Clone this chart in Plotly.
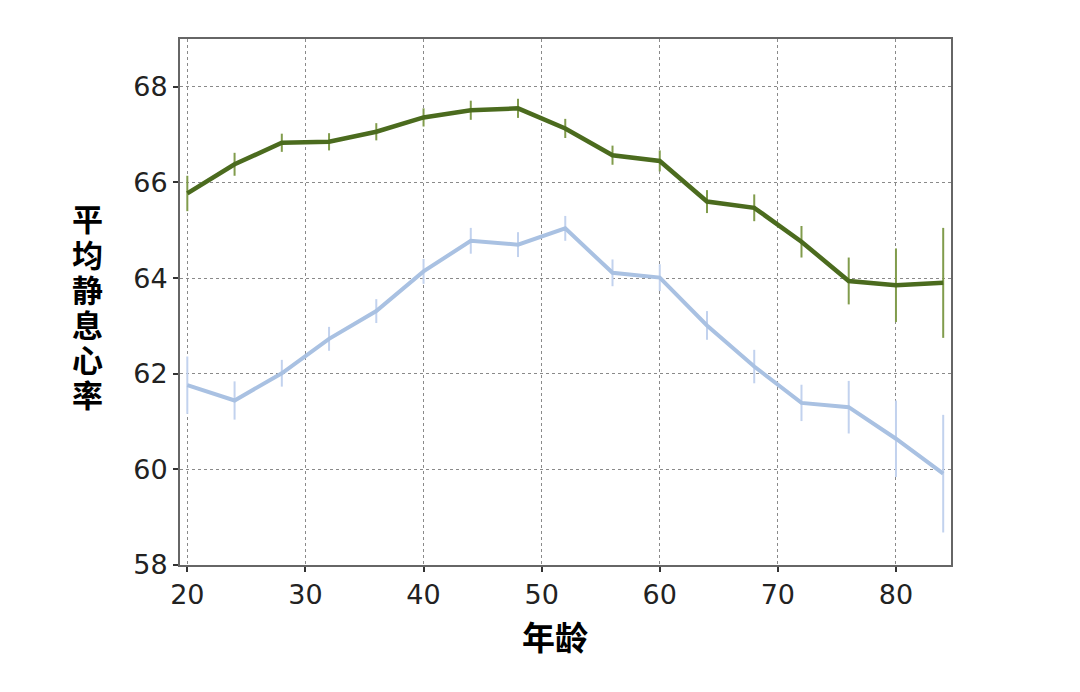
import plotly.graph_objects as go

ages = [20, 24, 28, 32, 36, 40, 44, 48, 52, 56, 60, 64, 68, 72, 76, 80, 84]
green_vals = [65.77, 66.38, 66.83, 66.85, 67.06, 67.36, 67.51, 67.55, 67.13, 66.57, 66.45,
              65.60, 65.47, 64.76, 63.94, 63.85, 63.90]
green_err = [0.37, 0.24, 0.19, 0.18, 0.18, 0.19, 0.20, 0.20, 0.20, 0.20, 0.22,
             0.24, 0.28, 0.33, 0.49, 0.77, 1.15]
blue_vals = [61.76, 61.44, 62.01, 62.73, 63.31, 64.14, 64.78, 64.70, 65.04, 64.11, 64.01,
             63.01, 62.15, 61.39, 61.30, 60.64, 59.91]
blue_err = [0.60, 0.40, 0.28, 0.25, 0.25, 0.26, 0.27, 0.26, 0.26, 0.28, 0.28,
            0.30, 0.35, 0.38, 0.55, 0.80, 1.23]
x_ticks = [20, 30, 40, 50, 60, 70, 80]
y_ticks = [58, 60, 62, 64, 66, 68]
y_title = "平均静息心率"
x_title = "年龄"

fig = go.Figure()
fig.add_trace(go.Scatter(
    x=ages, y=blue_vals, mode="lines",
    line=dict(color="#a9c1e2", width=4),
    error_y=dict(type="data", array=blue_err, visible=True, color="#c2d2ee",
                 thickness=2, width=0),
    showlegend=False,
))
fig.add_trace(go.Scatter(
    x=ages, y=green_vals, mode="lines",
    line=dict(color="#4b6b1e", width=4.5),
    error_y=dict(type="data", array=green_err, visible=True, color="#819c4c",
                 thickness=2, width=0),
    showlegend=False,
))

axis_common = dict(
    showgrid=True, gridcolor="#8a8a8a", griddash="dot", gridwidth=1.2,
    showline=True, linecolor="#666666", linewidth=2, mirror=True,
    ticks="outside", ticklen=5, tickcolor="#333333", tickwidth=1.5,
    tickfont=dict(family="DejaVu Sans", size=27, color="#222222"),
    zeroline=False,
)
fig.update_xaxes(range=[19.38, 84.66], tickvals=x_ticks, **axis_common)
fig.update_yaxes(range=[58, 69], tickvals=y_ticks, **axis_common)

# vertical y-axis title: one character per row, placed in pixel space
plot_top, plot_h = 39, 526
first_center, pitch = 218, 35
for i, ch in enumerate(y_title):
    ypix = first_center + i * pitch
    fig.add_annotation(
        text="<b>" + ch + "</b>",
        xref="paper", yref="paper", x=-0.1206, y=(plot_top + plot_h - ypix) / plot_h,
        xanchor="center", yanchor="middle", showarrow=False,
        font=dict(family="Noto Sans CJK SC", size=31, color="#000000"),
    )
fig.add_annotation(
    text="<b>" + x_title + "</b>",
    xref="paper", yref="paper", x=0.486, y=-0.135, xanchor="center", yanchor="middle",
    showarrow=False,
    font=dict(family="Noto Sans CJK SC", size=33, color="#000000"),
)

fig.update_layout(
    width=1064, height=676,
    margin=dict(l=172, r=121, t=31, b=119),
    paper_bgcolor="white", plot_bgcolor="white",
)
fig.write_html("out.html")
